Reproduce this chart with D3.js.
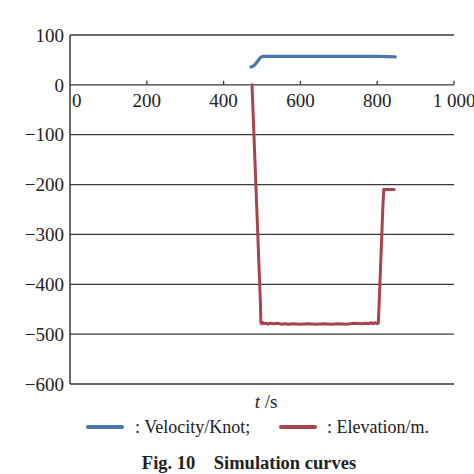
<!DOCTYPE html>
<meta charset="utf-8">
<head>
<script src="https://d3js.org/d3.v7.min.js"></script>
<style>
body { margin: 0; background: #fff; }
text { font-family: "Liberation Serif", "DejaVu Serif", serif; fill: #222; }
</style>
</head>
<body>
<script>

// data
var xTicks = [0, 200, 400, 600, 800, 1000];
var xTickLabels = ["0", "200", "400", "600", "800", "1 000"];
var yTicks = [100, 0, -100, -200, -300, -400, -500, -600];
var yTickLabels = ["100", "0", "\u2212100", "\u2212200", "\u2212300", "\u2212400", "\u2212500", "\u2212600"];

var velocityT = [471, 474, 478, 482, 486, 490, 494, 498, 502, 520, 560, 600, 650, 700, 750, 800, 830, 847];
var velocityV = [36, 37, 38, 41, 45, 49, 53, 56, 57, 57, 57, 57, 57, 57, 57, 57, 56.5, 56];

var elevationT = [474, 476, 478, 480, 482, 484, 486, 488, 490, 492, 494, 496, 497, 499, 502, 505, 510, 515, 520, 530, 540, 550, 560, 570, 580, 600, 620, 640, 660, 680, 700, 720, 740, 760, 770, 780, 785, 790, 795, 800, 803, 805, 807, 809, 811, 813, 815, 817, 825, 835, 844];
var elevationV = [0, -40, -80, -120, -160, -200, -240, -280, -320, -360, -400, -440, -477, -479, -477, -479, -478, -480, -478, -479, -478, -480, -479, -480, -479, -480, -479, -480, -479, -480, -479, -480, -478, -479, -478, -479, -477, -479, -477, -479, -478, -440, -400, -360, -320, -280, -240, -210, -210, -210, -210];

var margin = {top: 35, right: 20, bottom: 90, left: 70},
    W = 474, H = 474,
    width = W - margin.left - margin.right,
    height = H - margin.top - margin.bottom;

var x = d3.scaleLinear().domain([0, 1000]).range([0, width]);
var y = d3.scaleLinear().domain([-600, 100]).range([height, 0]);

var svg = d3.select("body").append("svg")
    .attr("width", W)
    .attr("height", H);
var g = svg.append("g")
    .attr("transform", "translate(" + margin.left + "," + margin.top + ")");

// horizontal grid lines
g.selectAll(".grid")
    .data(yTicks)
    .enter().append("line")
    .attr("x1", 0).attr("x2", width)
    .attr("y1", function(d) { return y(d); })
    .attr("y2", function(d) { return y(d); })
    .attr("stroke", "#3a3a3a")
    .attr("stroke-width", 1.3);

// y axis line
g.append("line")
    .attr("x1", 0).attr("x2", 0)
    .attr("y1", y(100)).attr("y2", y(-600))
    .attr("stroke", "#3a3a3a")
    .attr("stroke-width", 1.5);

// y labels
g.selectAll(".ylab")
    .data(yTicks)
    .enter().append("text")
    .attr("x", -6)
    .attr("y", function(d) { return y(d); })
    .attr("dy", "0.35em")
    .attr("text-anchor", "end")
    .style("font-size", "19px")
    .text(function(d, i) { return yTickLabels[i]; });

// x ticks on the zero line, pointing up
g.selectAll(".xtick")
    .data(xTicks.slice(1))
    .enter().append("line")
    .attr("x1", function(d) { return x(d); })
    .attr("x2", function(d) { return x(d); })
    .attr("y1", y(0)).attr("y2", y(0) - 4)
    .attr("stroke", "#3a3a3a")
    .attr("stroke-width", 1.3);

g.selectAll(".xlab")
    .data(xTicks)
    .enter().append("text")
    .attr("x", function(d) { return d === 0 ? x(d) + 2 : x(d); })
    .attr("y", y(0) + 22)
    .attr("text-anchor", function(d) { return d === 0 ? "start" : "middle"; })
    .style("font-size", "19px")
    .text(function(d, i) { return xTickLabels[i]; });

// curves
var line = d3.line()
    .x(function(d) { return x(d[0]); })
    .y(function(d) { return y(d[1]); });

g.append("path")
    .datum(d3.zip(velocityT, velocityV))
    .attr("d", line)
    .attr("fill", "none")
    .attr("stroke", "#4a77a9")
    .attr("stroke-width", 3.2)
    .attr("stroke-linecap", "round")
    .attr("stroke-linejoin", "round");

g.append("path")
    .datum(d3.zip(elevationT, elevationV))
    .attr("d", line)
    .attr("fill", "none")
    .attr("stroke", "#a9434f")
    .attr("stroke-width", 3)
    .attr("stroke-linecap", "round")
    .attr("stroke-linejoin", "round");

// axis title
var t = svg.append("text")
    .attr("x", 266)
    .attr("y", 408)
    .attr("text-anchor", "middle")
    .style("font-size", "19px");
t.append("tspan").style("font-style", "italic").text("t");
t.append("tspan").text(" /s");

// legend
svg.append("line")
    .attr("x1", 88).attr("x2", 122).attr("y1", 427).attr("y2", 427)
    .attr("stroke", "#4a77a9").attr("stroke-width", 4).attr("stroke-linecap", "round");
svg.append("text")
    .attr("x", 135).attr("y", 433)
    .style("font-size", "18px")
    .text(": Velocity/Knot;");
svg.append("line")
    .attr("x1", 281).attr("x2", 315).attr("y1", 427).attr("y2", 427)
    .attr("stroke", "#a9434f").attr("stroke-width", 4).attr("stroke-linecap", "round");
svg.append("text")
    .attr("x", 327).attr("y", 433)
    .style("font-size", "18px")
    .text(": Elevation/m.");

// caption
svg.append("text")
    .attr("x", 249)
    .attr("y", 469)
    .attr("text-anchor", "middle")
    .style("font-size", "18.5px")
    .style("font-weight", "bold")
    .attr("xml:space", "preserve")
    .text("Fig. 10    Simulation curves");

</script>
</body>
